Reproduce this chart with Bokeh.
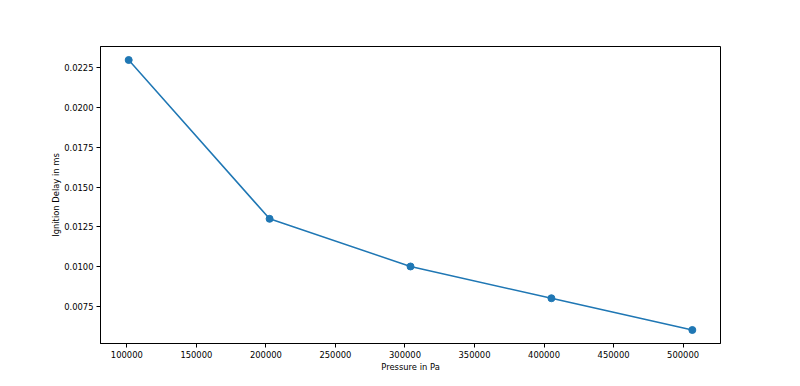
from bokeh.plotting import figure
from bokeh.models import Range1d, FixedTicker, PrintfTickFormatter
from bokeh.embed import file_html
from bokeh.resources import INLINE

pressure = [101325, 202650, 303975, 405300, 506625]
delay = [0.023, 0.013, 0.010, 0.008, 0.006]
x_ticks = [100000, 150000, 200000, 250000, 300000, 350000, 400000, 450000, 500000]
y_ticks = [0.0075, 0.0100, 0.0125, 0.0150, 0.0175, 0.0200, 0.0225]

xpad = (max(pressure) - min(pressure)) * 0.05
ypad = (max(delay) - min(delay)) * 0.05

p = figure(width=800, height=386, output_backend="svg", toolbar_location=None,
           x_range=Range1d(min(pressure) - xpad, max(pressure) + xpad),
           y_range=Range1d(min(delay) - ypad, max(delay) + ypad),
           min_border_left=100, min_border_right=80, min_border_top=46, min_border_bottom=43)
p.background_fill_color = "white"
p.border_fill_color = "white"
p.outline_line_color = "black"
p.outline_line_width = 1
p.grid.visible = False

p.line(pressure, delay, line_color="#1f77b4", line_width=1.5)
p.scatter(pressure, delay, size=7, fill_color="#1f77b4", line_color="#1f77b4")

p.xaxis.ticker = FixedTicker(ticks=x_ticks)
p.yaxis.ticker = FixedTicker(ticks=y_ticks)
p.xaxis.formatter = PrintfTickFormatter(format="%d")
p.yaxis.formatter = PrintfTickFormatter(format="%.4f")
p.xaxis.axis_label = "Pressure in Pa"
p.yaxis.axis_label = "Ignition Delay in ms"

for ax in (p.xaxis, p.yaxis):
    ax.axis_line_color = "black"
    ax.major_tick_line_color = "black"
    ax.major_tick_out = 4
    ax.major_tick_in = 0
    ax.minor_tick_line_color = None
    ax.major_label_text_font = "DejaVu Sans"
    ax.major_label_text_font_size = "8.4px"
    ax.major_label_text_color = "black"
    ax.axis_label_text_font = "DejaVu Sans"
    ax.axis_label_text_font_size = "8.4px"
    ax.axis_label_text_font_style = "normal"
    ax.axis_label_text_color = "black"
    ax.major_label_standoff = 3

p.xaxis.axis_label_standoff = 1
p.yaxis.axis_label_standoff = 0

open("out.html", "w").write(file_html(p, INLINE))
